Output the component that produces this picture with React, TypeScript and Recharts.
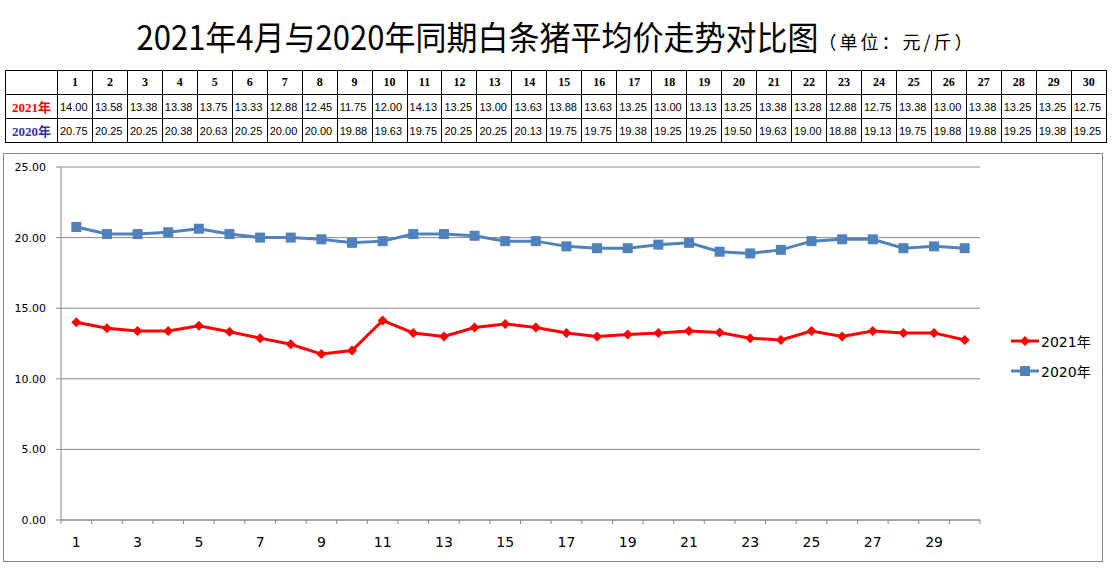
import React from 'react'
import { LineChart, Line, XAxis, YAxis, CartesianGrid } from 'recharts'

const days = Array.from({ length: 30 }, (_, i) => i + 1)
const price2021 = [
  14.0, 13.58, 13.38, 13.38, 13.75, 13.33, 12.88, 12.45, 11.75, 12.0,
  14.13, 13.25, 13.0, 13.63, 13.88, 13.63, 13.25, 13.0, 13.13, 13.25,
  13.38, 13.28, 12.88, 12.75, 13.38, 13.0, 13.38, 13.25, 13.25, 12.75,
]
const price2020 = [
  20.75, 20.25, 20.25, 20.38, 20.63, 20.25, 20.0, 20.0, 19.88, 19.63,
  19.75, 20.25, 20.25, 20.13, 19.75, 19.75, 19.38, 19.25, 19.25, 19.5,
  19.63, 19.0, 18.88, 19.13, 19.75, 19.88, 19.88, 19.25, 19.38, 19.25,
]
const yTicks = [0, 5, 10, 15, 20, 25]
// half steps: .5 values mark category edges, odd integers carry labels
const xTicks = Array.from({ length: 61 }, (_, i) => 0.5 + i * 0.5)

const RED = '#ff0000'
const BLUE = '#4f81bd'

const data = days.map((d, i) => ({ day: d, y2021: price2021[i], y2020: price2020[i] }))

const Diamond = (props: any) => {
  const { cx, cy, index } = props
  if (cx == null || cy == null) return null
  return <path key={index} d={`M${cx},${cy - 5} L${cx + 5},${cy} L${cx},${cy + 5} L${cx - 5},${cy} Z`} fill={RED} />
}

const Square = (props: any) => {
  const { cx, cy, index } = props
  if (cx == null || cy == null) return null
  return <rect key={index} x={cx - 5} y={cy - 5} width={10} height={10} fill={BLUE} />
}

const DayTick = (props: any) => {
  const { x, y, payload } = props
  const v = payload.value
  if (v % 1 !== 0) {
    return <line x1={x} x2={x} y1={y} y2={y + 4} stroke="#888" strokeWidth={1} />
  }
  if (v % 2 === 0) return null
  return (
    <text x={x} y={y + 23} textAnchor="middle" dominantBaseline="middle" fontSize={14}
      fontFamily="'DejaVu Sans', sans-serif" fill="#000">
      {v}
    </text>
  )
}

const cell: React.CSSProperties = {
  border: '1px solid #000',
  padding: '0 0 0 2px',
  height: 23,
  fontFamily: "'Liberation Sans', Arial, sans-serif",
  fontSize: 11,
  textAlign: 'left',
  whiteSpace: 'nowrap',
}
const headCell: React.CSSProperties = {
  ...cell,
  padding: 0,
  textAlign: 'center',
  fontFamily: "'Liberation Serif', 'Noto Sans CJK SC', serif",
  fontWeight: 'bold',
  fontSize: 12,
}

export default function App() {
  return (
    <div style={{ position: 'absolute', left: 0, top: 0, width: 1112, height: 568, background: '#fff' }}>
      <div style={{ position: 'absolute', left: 0, top: 15, width: 1112, height: 42, textAlign: 'center',
        fontFamily: "'Noto Sans CJK SC', sans-serif", color: '#000', lineHeight: '42px' }}>
        <span style={{ fontSize: 31, display: 'inline-block', transform: 'scaleY(1.08)' }}>2021年4月与2020年同期白条猪平均价走势对比图</span>
        <span style={{ fontSize: 18, letterSpacing: 3 }}>（单位：元/斤）</span>
      </div>

      <table style={{ position: 'absolute', left: 5, top: 70, width: 1102, borderCollapse: 'collapse', tableLayout: 'fixed' }}>
        <colgroup>
          <col style={{ width: 52 }} />
          {days.map((d) => <col key={d} />)}
        </colgroup>
        <tbody>
          <tr>
            <td style={headCell}></td>
            {days.map((d) => <td key={d} style={headCell}>{d}</td>)}
          </tr>
          <tr>
            <td style={{ ...headCell, color: RED, fontSize: 13 }}>2021年</td>
            {price2021.map((v, i) => <td key={i} style={cell}>{v.toFixed(2)}</td>)}
          </tr>
          <tr>
            <td style={{ ...headCell, color: '#333399', fontSize: 13 }}>2020年</td>
            {price2020.map((v, i) => <td key={i} style={cell}>{v.toFixed(2)}</td>)}
          </tr>
        </tbody>
      </table>

      <div style={{ position: 'absolute', left: 3, top: 153, width: 1100, height: 409, boxSizing: 'border-box', border: '1px solid #888' }}>
        <LineChart width={1098} height={407} data={data} margin={{ top: 13, right: 122, bottom: 0, left: 0 }}>
          <CartesianGrid horizontal vertical={false} stroke="#888" />
          <XAxis dataKey="day" type="number" domain={[0.5, 30.5]} ticks={xTicks} interval={0}
            height={41} tickSize={0} tickMargin={0} tickLine={false} stroke="#888" tick={<DayTick />} />
          <YAxis type="number" domain={[0, 25]} ticks={yTicks} width={57} stroke="#888"
            tickSize={5} tickMargin={10} tickFormatter={(v: number) => v.toFixed(2)}
            tick={{ fontSize: 11, fill: '#000', fontFamily: "'DejaVu Sans', sans-serif" }} />
          <Line dataKey="y2021" stroke={RED} strokeWidth={3} dot={<Diamond />} isAnimationActive={false} />
          <Line dataKey="y2020" stroke={BLUE} strokeWidth={3} dot={<Square />} isAnimationActive={false} />
        </LineChart>
      </div>

      {/* legend on the right of the plot */}
      <div style={{ position: 'absolute', left: 1010, top: 330, fontFamily: "'DejaVu Sans', 'Noto Sans CJK SC', sans-serif", fontSize: 14 }}>
        <div style={{ display: 'flex', alignItems: 'center', height: 22 }}>
          <svg width={30} height={12}>
            <line x1={1} x2={29} y1={6} y2={6} stroke={RED} strokeWidth={3} />
            <path d="M15,1 L20,6 L15,11 L10,6 Z" fill={RED} />
          </svg>
          <span style={{ marginLeft: 1 }}>2021年</span>
        </div>
        <div style={{ display: 'flex', alignItems: 'center', height: 22, marginTop: 8 }}>
          <svg width={30} height={12}>
            <line x1={1} x2={29} y1={6} y2={6} stroke={BLUE} strokeWidth={3} />
            <rect x={10} y={1} width={10} height={10} fill={BLUE} />
          </svg>
          <span style={{ marginLeft: 1 }}>2020年</span>
        </div>
      </div>
    </div>
  )
}
